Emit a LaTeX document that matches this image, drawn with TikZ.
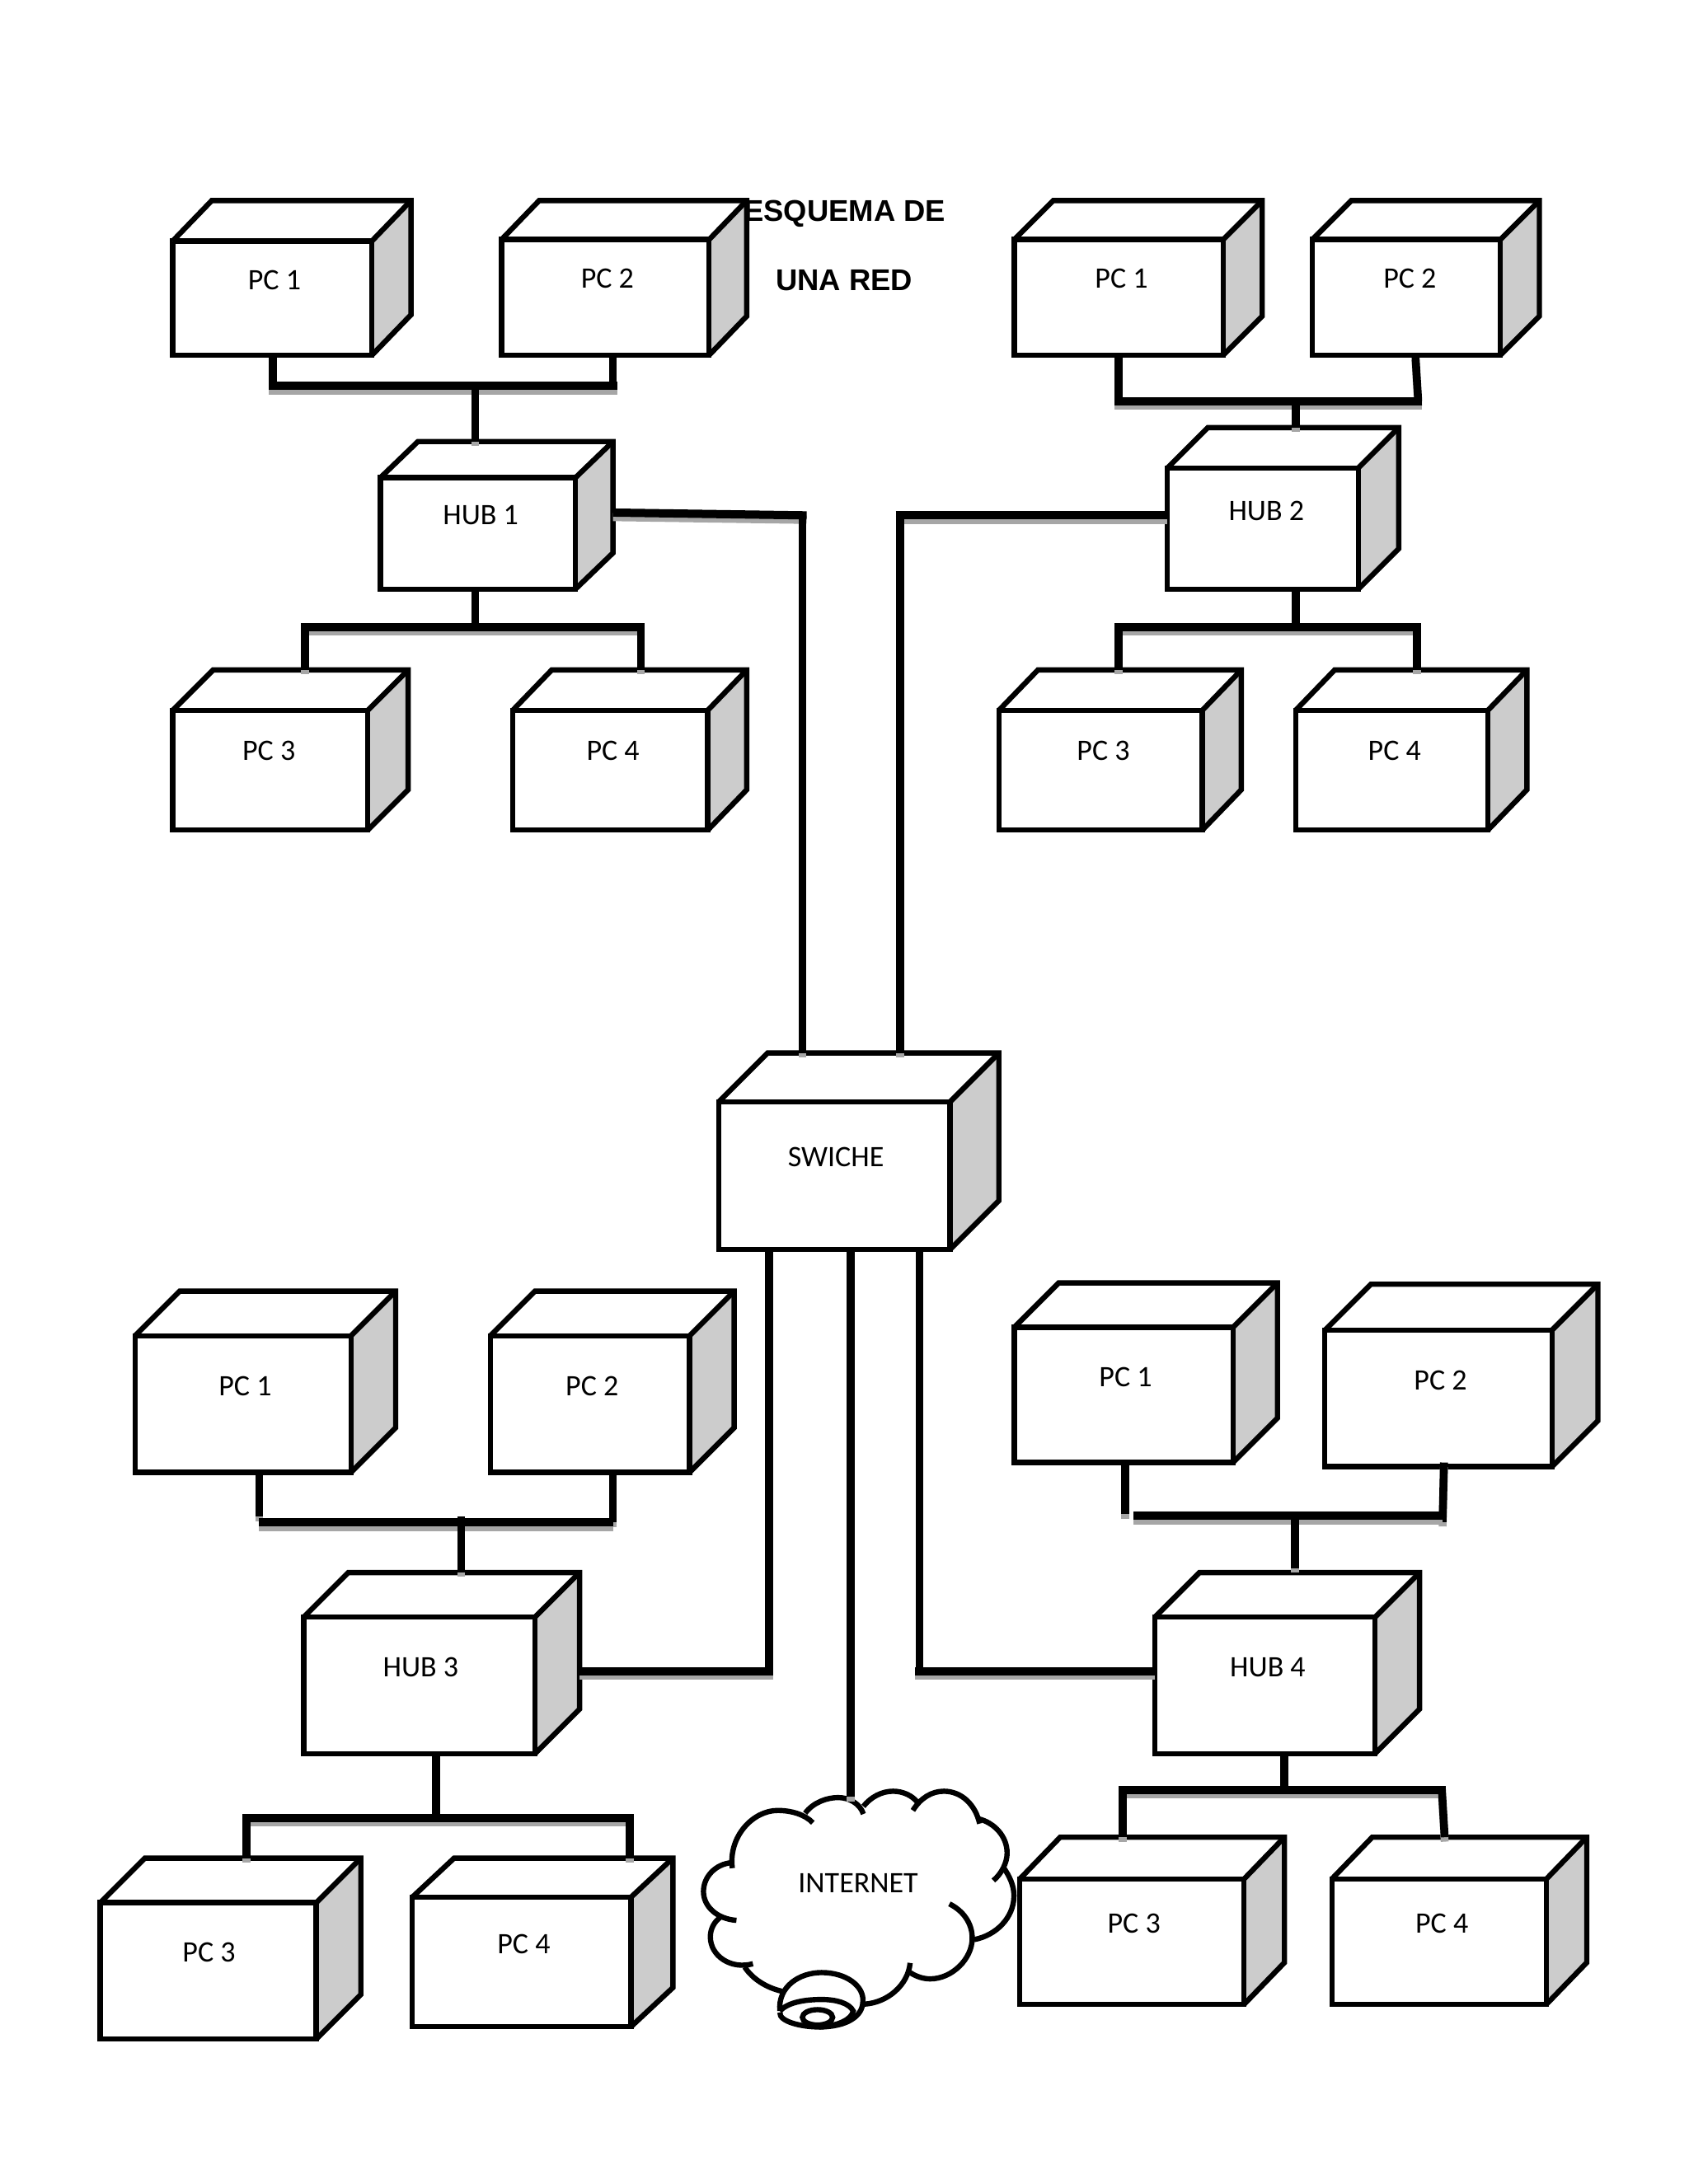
\documentclass[tikz,border=0pt]{standalone}
\usepackage{fontspec}
\setmainfont{Carlito}
\newfontfamily\titlefont{Liberation Sans}
\usetikzlibrary{fit}
\definecolor{sidegray}{HTML}{CCCCCC}
\definecolor{shadegray}{HTML}{A6A6A6}

\tikzset{
  front/.style={draw=black, fill=white, line width=3.2pt, inner sep=0pt, outer sep=0pt},
  face/.style={draw=black, line width=3.2pt},
  netlabel/.style={inner sep=0pt, yshift=-0.8pt, font=\fontsize{18}{22}\selectfont},
  titletext/.style={inner sep=0pt, font=\titlefont\bfseries\fontsize{18.2}{22}\selectfont},
  wire/.style={draw=black, line width=4.8pt, preaction={draw=shadegray, line width=4.8pt, transform canvas={yshift=-2.7pt}}},
  bus/.style={draw=black, line width=5pt, line cap=rect, preaction={draw=shadegray, line width=5pt, line cap=rect, transform canvas={yshift=-2.7pt}}},
  shortbus/.style={draw=black, line width=5pt, preaction={draw=shadegray, line width=5pt, transform canvas={yshift=-2.7pt}}},
  cloudline/.style={draw=black, line width=3.2pt}
}

% name, front left, top, right, bottom, back corner x, y, label position, label
\newcommand{\netbox}[9]{%
  \coordinate (#1-a) at (#2,#3);
  \coordinate (#1-b) at (#4,#5);
  \coordinate (#1-back) at (#6,#7);
  \node[front, fit=(#1-a)(#1-b)] (#1) {};
  \fill[white] (#2,#3) -- (#2+#6-#4,#7) -- (#6,#7) -- (#4,#3) -- cycle;
  \fill[sidegray] (#4,#3) -- (#6,#7) -- (#6,#7+#5-#3) -- (#4,#5) -- cycle;
  \draw[face] (#2,#3) -- (#2+#6-#4,#7) -- (#6,#7) -- (#6,#7+#5-#3) -- (#4,#5);
  \draw[face] (#2,#3) -- (#4,#3) -- (#4,#5);
  \draw[face] (#4,#3) -- (#6,#7);
  \node[netlabel] (#1-label) at (#8) {#9};
}

\begin{document}
\begin{tikzpicture}[x=0.845pt, y=-0.845pt]
  \useasboundingbox (0,0) rectangle (1211.8,1568);

  % Title, the second box sits over its first letter
  \node[titletext, anchor=east] (titlea) at (679,153.5) {ESQUEMA DE};
  \node[titletext] (titleb) at (606,201.5) {UNA RED};

  % Upper left group
  \netbox{pcaa}{124}{173}{267}{255}{295}{144}{197,200}{PC 1}
  \netbox{pcab}{360}{172}{509}{255}{536}{144}{436,199}{PC 2}
  \netbox{huba}{273}{343}{413}{423}{440}{317}{345,369}{HUB 1}
  \netbox{pcac}{124}{510}{264}{596}{293}{481}{193,538}{PC 3}
  \netbox{pcad}{368}{510}{508}{596}{536}{481}{440,538}{PC 4}

  % Upper right group
  \netbox{pcba}{728}{172}{878}{255}{906}{144}{805,199}{PC 1}
  \netbox{pcbb}{942}{172}{1077}{255}{1105}{144}{1012,199}{PC 2}
  \netbox{hubb}{838}{336}{975}{423}{1004}{307}{909,366}{HUB 2}
  \netbox{pcbc}{717}{510}{863}{596}{891}{481}{792,538}{PC 3}
  \netbox{pcbd}{930}{510}{1068}{596}{1096}{481}{1001,538}{PC 4}

  % Switch in the middle
  \netbox{swiche}{516}{791}{682}{897}{717}{756}{600,830}{SWICHE}

  % Lower left group
  \netbox{pcca}{97}{959}{252}{1057}{284}{927}{176,994}{PC 1}
  \netbox{pccb}{352}{959}{495}{1057}{527}{927}{425,994}{PC 2}
  \netbox{hubc}{218}{1161}{384}{1259}{416}{1129}{302,1196}{HUB 3}
  \netbox{pccc}{72}{1366}{227}{1464}{259}{1334}{150,1401}{PC 3}
  \netbox{pccd}{296}{1362}{453}{1455}{483}{1334}{376,1395}{PC 4}

  % Lower right group
  \netbox{pcda}{728}{953}{885}{1050}{917}{921}{808,988}{PC 1}
  \netbox{pcdb}{951}{955}{1114}{1053}{1147}{922}{1034,990}{PC 2}
  \netbox{hubd}{829}{1161}{987}{1259}{1019}{1129}{910,1196}{HUB 4}
  \netbox{pcdc}{732}{1349}{893}{1439}{922}{1319}{814,1380}{PC 3}
  \netbox{pcdd}{956}{1349}{1110}{1439}{1139}{1319}{1035,1380}{PC 4}

  % Cloud, in the units of a 3x crop
  \begin{scope}[shift={(473.4,1242.6)}, x=0.16667pt, y=-0.16667pt]
    \draw[cloudline] (280,690) .. controls (210,685) and (160,640) .. (160,585) .. controls (160,530) and (205,485) .. (262,480);
    \draw[cloudline] (265,500) .. controls (250,385) and (340,290) .. (430,290) .. controls (480,290) and (530,305) .. (558,335);
    \draw[cloudline] (530,300) .. controls (560,260) and (610,243) .. (650,243) .. controls (690,243) and (730,265) .. (742,303);
    \draw[cloudline] (742,275) .. controls (770,240) and (810,220) .. (850,220) .. controls (885,220) and (920,235) .. (940,262);
    \draw[cloudline] (922,290) .. controls (950,245) and (990,220) .. (1035,220) .. controls (1100,220) and (1150,270) .. (1165,338);
    \draw[cloudline] (1160,320) .. controls (1220,335) and (1265,385) .. (1265,445) .. controls (1265,480) and (1245,520) .. (1215,545);
    \draw[cloudline] (1250,495) .. controls (1275,530) and (1290,565) .. (1290,600) .. controls (1290,680) and (1225,745) .. (1145,760);
    \draw[cloudline] (1055,630) .. controls (1105,655) and (1138,700) .. (1138,755) .. controls (1138,830) and (1065,903) .. (985,903) .. controls (960,903) and (935,895) .. (912,880);
    \draw[cloudline] (912,845) .. controls (905,925) and (830,990) .. (745,995);
    \draw[cloudline] (310,860) .. controls (340,905) and (390,935) .. (445,948);
    \draw[cloudline] (340,848) .. controls (260,870) and (185,820) .. (185,750) .. controls (185,720) and (200,695) .. (220,680);

    % Small dome under the cloud
    \draw[cloudline, fill=white] (438,1020) .. controls (430,930) and (510,880) .. (590,880) .. controls (680,880) and (745,930) .. (740,985) .. controls (740,1040) and (680,1078) .. (580,1078) .. controls (520,1078) and (435,1060) .. (438,1025);
    \draw[cloudline] (438,1020) .. controls (470,985) and (540,978) .. (590,978) .. controls (640,978) and (690,990) .. (705,1020) .. controls (700,1050) and (650,1075) .. (580,1078);
    \draw[cloudline] (575,1043) ellipse (55 and 28);
  \end{scope}
  \node[netlabel] (internet) at (616,1351) {INTERNET};
  \coordinate (cloudtop) at (610.5,1290);

  % Upper left wires
  \coordinate (aup) at (341,277);
  \coordinate (aupl) at (196,277);
  \coordinate (aupr) at (440,277);
  \draw[wire] (aupl |- pcaa.south) -- (aupl);
  \draw[wire] (aupr |- pcab.south) -- (aupr);
  \draw[bus] (aupl) -- (aupr);
  \draw[wire] (aup) -- (aup |- huba-back);
  \coordinate (adown) at (341,450);
  \coordinate (adownl) at (219,450);
  \coordinate (adownr) at (460,450);
  \draw[wire] (adown |- huba.south) -- (adown);
  \draw[bus] (adownl) -- (adownr);
  \draw[wire] (adownl) -- (adownl |- pcac-back);
  \draw[wire] (adownr) -- (adownr |- pcad-back);

  % Upper right wires
  \coordinate (bup) at (930,288);
  \coordinate (bupl) at (803,288);
  \coordinate (bupr) at (1018,288);
  \coordinate (bfoot) at (1016,255);
  \draw[wire] (bupl |- pcba.south) -- (bupl);
  \draw[wire] (bfoot) -- (bupr);
  \draw[bus] (bupl) -- (bupr);
  \draw[wire] (bup) -- (bup |- hubb-back);
  \coordinate (bdown) at (930,450);
  \coordinate (bdownl) at (803,450);
  \coordinate (bdownr) at (1017,450);
  \draw[wire] (bdown |- hubb.south) -- (bdown);
  \draw[bus] (bdownl) -- (bdownr);
  \draw[wire] (bdownl) -- (bdownl |- pcbc-back);
  \draw[wire] (bdownr) -- (bdownr |- pcbd-back);

  % Hubs 1 and 2 to the switch
  \coordinate (sina) at (576,370);
  \coordinate (sinb) at (646,370);
  \coordinate (outa) at (440,368);
  \coordinate (outb) at (643,370);
  \coordinate (ina) at (579,370);
  \draw[shortbus] (outa) -- (ina);
  \draw[wire] (sina) -- (sina |- swiche-back);
  \draw[shortbus] (outb) -- (hubb.west |- outb);
  \draw[wire] (sinb) -- (sinb |- swiche-back);

  % Switch to hubs 3 and 4 and to the cloud
  \coordinate (souta) at (552,1200);
  \coordinate (soutb) at (660,1200);
  \coordinate (outc) at (416,1200);
  \coordinate (inc) at (555,1200);
  \coordinate (ind) at (657,1200);
  \draw[wire] (souta |- swiche.south) -- (souta);
  \draw[shortbus] (inc) -- (outc);
  \draw[wire] (soutb |- swiche.south) -- (soutb);
  \draw[shortbus] (ind) -- (hubd.west |- ind);
  \draw[wire] (cloudtop |- swiche.south) -- (cloudtop);

  % Lower left wires
  \coordinate (cup) at (331,1089);
  \coordinate (cupl) at (186,1093);
  \coordinate (cupr) at (440,1093);
  \coordinate (cstub) at (186,1089);
  \draw[wire] (cstub |- pcca.south) -- (cstub);
  \draw[wire] (cupr |- pccb.south) -- (cupr);
  \draw[shortbus] (cupl) -- (cupr);
  \draw[wire] (cup) -- (cup |- hubc-back);
  \coordinate (cdown) at (313,1305);
  \coordinate (cdownl) at (177,1305);
  \coordinate (cdownr) at (452,1305);
  \draw[wire] (cdown |- hubc.south) -- (cdown);
  \draw[bus] (cdownl) -- (cdownr);
  \draw[wire] (cdownl) -- (cdownl |- pccc-back);
  \draw[wire] (cdownr) -- (cdownr |- pccd-back);

  % Lower right wires, the left one stops short of the bus
  \coordinate (dup) at (929.6,1089);
  \coordinate (dhub) at (929.6,1126);
  \coordinate (dupl) at (813.6,1088.3);
  \coordinate (dupr) at (1035.5,1088.3);
  \coordinate (dfoot) at (1036.5,1050);
  \coordinate (dhip) at (1035.5,1092.7);
  \coordinate (dstub) at (807.7,1087);
  \draw[wire] (dstub |- pcda.south) -- (dstub);
  \draw[wire] (dfoot) -- (dhip);
  \draw[shortbus] (dupl) -- (dupr);
  \draw[wire] (dup) -- (dhub);
  \coordinate (ddown) at (922,1285);
  \coordinate (ddownl) at (806,1285);
  \coordinate (ddownr) at (1035,1285);
  \coordinate (dtoe) at (1037,1319);
  \draw[wire] (ddown |- hubd.south) -- (ddown);
  \draw[bus] (ddownl) -- (ddownr);
  \draw[wire] (ddownl) -- (ddownl |- pcdc-back);
  \draw[wire] (ddownr) -- (dtoe);
\end{tikzpicture}
\end{document}
